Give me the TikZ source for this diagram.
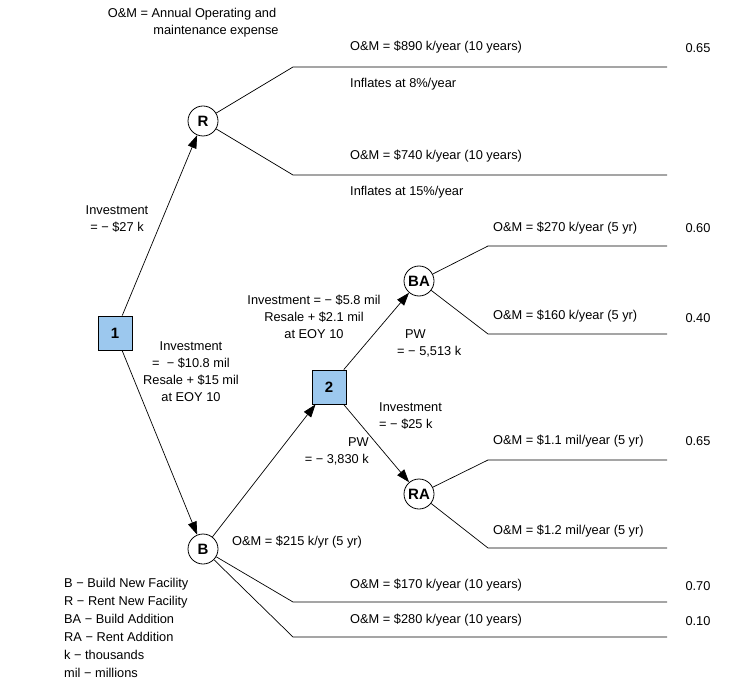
\documentclass[tikz,border=0pt]{standalone}
\usepackage{fontspec}
\setmainfont{Liberation Sans}
\usetikzlibrary{arrows.meta}
\definecolor{boxblue}{HTML}{9CC8EE}
\begin{document}
\begin{tikzpicture}[x=1pt,y=-1pt,
  every node/.style={font=\fontsize{12.8}{17}\selectfont},
  chance/.style={circle,draw,thick,fill=white,minimum size=30pt,inner sep=0pt,font=\fontsize{15}{16}\selectfont\bfseries},
  dec/.style={rectangle,draw,thick,fill=boxblue,minimum size=34pt,inner sep=0pt,font=\fontsize{15}{16}\selectfont\bfseries},
  arr/.style={-{Triangle[length=13pt,width=9pt]},line width=0.7pt},
  br/.style={line width=0.7pt},
  lbl/.style={anchor=west,inner sep=0pt},
  prob/.style={anchor=center,inner sep=0pt}]
\useasboundingbox (0,0) rectangle (754,700);
\node[dec] (n1) at (115,333) {1};
\node[chance] (R) at (203,121) {R};
\node[chance] (B) at (203,549) {B};
\node[dec] (n2) at (329,387) {2};
\node[chance] (BA) at (419,281) {BA};
\node[chance] (RA) at (419,494) {RA};
\draw[arr] (n1) -- (R);
\draw[arr] (n1) -- (B);
\draw[arr] (B) -- (n2);
\draw[arr] (n2) -- (BA);
\draw[arr] (n2) -- (RA);
\coordinate (r1) at (293,67); \coordinate (r1e) at (667,67);
\coordinate (r2) at (293,175); \coordinate (r2e) at (667,175);
\coordinate (ba1) at (488,246); \coordinate (ba1e) at (667,246);
\coordinate (ba2) at (488,334); \coordinate (ba2e) at (667,334);
\coordinate (ra1) at (488,460); \coordinate (ra1e) at (667,460);
\coordinate (ra2) at (488,548); \coordinate (ra2e) at (667,548);
\coordinate (b1) at (293,602); \coordinate (b1e) at (667,602);
\coordinate (b2) at (293,637); \coordinate (b2e) at (667,637);
\draw[br] (R) -- (r1) -- (r1e);
\draw[br] (R) -- (r2) -- (r2e);
\draw[br] (BA) -- (ba1) -- (ba1e);
\draw[br] (BA) -- (ba2) -- (ba2e);
\draw[br] (RA) -- (ra1) -- (ra1e);
\draw[br] (RA) -- (ra2) -- (ra2e);
\draw[br] (B) -- (b1) -- (b1e);
\draw[br] (B) -- (b2) -- (b2e);
\node[inner sep=0pt,align=center] (t0) at (192,23) {O\&M = Annual Operating and\\\hspace*{48pt}maintenance expense};
\node[lbl] (t1) at (350,47) {O\&M = \$890 k/year (10 years)};
\node[lbl] (t2) at (350,84) {Inflates at 8\%/year};
\node[lbl] (t3) at (350,156) {O\&M = \$740 k/year (10 years)};
\node[lbl] (t4) at (350,192) {Inflates at 15\%/year};
\node[lbl] (t5) at (493,228) {O\&M = \$270 k/year (5 yr)};
\node[lbl] (t6) at (493,316) {O\&M = \$160 k/year (5 yr)};
\node[lbl] (t7) at (493,441) {O\&M = \$1.1 mil/year (5 yr)};
\node[lbl] (t8) at (493,531) {O\&M = \$1.2 mil/year (5 yr)};
\node[lbl] (t9) at (350,585) {O\&M = \$170 k/year (10 years)};
\node[lbl] (t10) at (350,620) {O\&M = \$280 k/year (10 years)};
\node[lbl] (t11) at (232,542) {O\&M = \$215 k/yr (5 yr)};
\node[prob] (p1) at (698,48) {0.65};
\node[prob] (p2) at (698,228) {0.60};
\node[prob] (p3) at (698,318) {0.40};
\node[prob] (p4) at (698,441) {0.65};
\node[prob] (p5) at (698,586) {0.70};
\node[prob] (p6) at (698,621) {0.10};
\node[inner sep=0pt,align=center] (i1) at (117,219) {Investment\\= − \$27 k};
\node[inner sep=0pt,align=center] (i2) at (191,372) {Investment\\= \ − \$10.8 mil\\Resale + \$15 mil\\at EOY 10};
\node[inner sep=0pt,align=center] (i3) at (314,317) {Investment = − \$5.8 mil\\Resale + \$2.1 mil\\at EOY 10};
\node[inner sep=0pt,align=left,anchor=west] (pw1) at (397,343) {\hspace*{8pt}PW\\= − 5,513 k};
\node[inner sep=0pt,align=left,anchor=west] (i4) at (379,416) {Investment\\= − \$25 k};
\node[inner sep=0pt,align=right,anchor=east] (pw2) at (369,451) {PW\\= − 3,830 k};
\node[inner sep=0pt,align=left,anchor=north west,font=\fontsize{12.8}{18}\selectfont] (leg) at (64,578) {B − Build New Facility\\R − Rent New Facility\\BA − Build Addition\\RA − Rent Addition\\k − thousands\\mil − millions};
\end{tikzpicture}
\end{document}
